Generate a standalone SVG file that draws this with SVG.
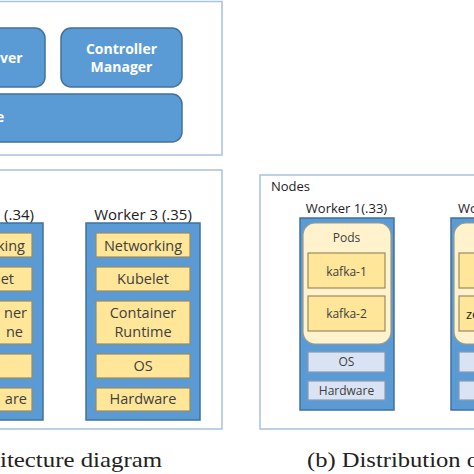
<svg xmlns="http://www.w3.org/2000/svg" width="474" height="474" viewBox="0 0 474 474">
<style>
.panel{fill:#fff;stroke:#a9c1dd;stroke-width:1.5}
.blue{fill:#5b9bd5;stroke:#41719c;stroke-width:1.5}
.yel{fill:#ffe699;stroke:#9a8a60;stroke-width:1.2}
.pods{fill:#fff2cc;stroke:#9a9a8a;stroke-width:1.2}
.gry{fill:#dae3f3;stroke:#8a9ab0;stroke-width:1.2}
.wt{font-family:"Open Sans","Noto Sans",sans-serif;font-weight:bold;font-size:14px;fill:#fff}
.lt{font-family:"Open Sans","Noto Sans",sans-serif;font-size:14.5px;fill:#404040;text-anchor:middle}
.lte{font-family:"Open Sans","Noto Sans",sans-serif;font-size:14.5px;fill:#404040;text-anchor:end}
.hd{font-family:"Open Sans","Noto Sans",sans-serif;font-size:15px;fill:#222}
.rt{font-family:"Open Sans","Noto Sans",sans-serif;font-size:12px;fill:#404040;text-anchor:middle}
.rh{font-family:"Open Sans","Noto Sans",sans-serif;font-size:13px;fill:#222}
.cap{font-family:"Liberation Serif","DejaVu Serif",serif;font-size:22px;fill:#222}
</style>

<!-- top panel: master -->
<g id="master">
<rect class="panel" x="-200" y="1.5" width="422" height="153.5"/>
<g id="api-server">
<rect class="blue" x="-76" y="28" width="121" height="59" rx="10"/>
<text class="wt" x="0" y="63">ver</text>
</g>
<g id="controller-manager">
<rect class="blue" x="61" y="28" width="121" height="59" rx="10"/>
<text class="wt" x="121.5" y="54" text-anchor="middle">Controller</text>
<text class="wt" x="121.5" y="72" text-anchor="middle">Manager</text>
</g>
<g id="wide-box">
<rect class="blue" x="-200" y="94" width="382" height="48" rx="10"/>
<text class="wt" x="-4" y="122">e</text>
</g>
</g>

<!-- middle-left panel: workers -->
<g id="workers-panel">
<rect class="panel" x="-200" y="170" width="422" height="259"/>
</g>

<g id="worker2">
<text class="hd" x="34" y="220" text-anchor="end">(.34)</text>
<rect class="blue" x="-71" y="223" width="114" height="197"/>
<rect class="yel" x="-62" y="233" width="94" height="24"/>
<text class="lte" x="25" y="251">king</text>
<rect class="yel" x="-62" y="267" width="94" height="24"/>
<text class="lte" x="14" y="284">et</text>
<rect class="yel" x="-62" y="301" width="94" height="43"/>
<text class="lte" x="27" y="318">ner</text>
<text class="lte" x="23" y="337">ne</text>
<rect class="yel" x="-62" y="354" width="94" height="24"/>
<rect class="yel" x="-62" y="388" width="94" height="23"/>
<text class="lte" x="27" y="404">are</text>
</g>

<g id="worker3">
<text class="hd" x="143" y="220" text-anchor="middle">Worker 3 (.35)</text>
<rect class="blue" x="86" y="223" width="114" height="197"/>
<rect class="yel" x="96" y="233" width="94" height="24"/>
<text class="lt" x="143" y="251">Networking</text>
<rect class="yel" x="96" y="267" width="94" height="24"/>
<text class="lt" x="143" y="284">Kubelet</text>
<rect class="yel" x="96" y="301" width="94" height="43"/>
<text class="lt" x="143" y="318">Container</text>
<text class="lt" x="143" y="337">Runtime</text>
<rect class="yel" x="96" y="354" width="94" height="24"/>
<text class="lt" x="143" y="371">OS</text>
<rect class="yel" x="96" y="388" width="94" height="23"/>
<text class="lt" x="143" y="404">Hardware</text>
</g>

<text class="cap" x="0" y="467" textLength="162" lengthAdjust="spacingAndGlyphs">itecture diagram</text>

<!-- right panel: nodes -->
<g id="nodes-panel">
<rect class="panel" x="260" y="175" width="440" height="254"/>
<text class="rh" x="271" y="191" font-size="12">Nodes</text>
</g>

<g id="node-worker1">
<text class="rh" x="346.5" y="213" text-anchor="middle">Worker 1(.33)</text>
<rect class="blue" x="300" y="218" width="94" height="192"/>
<rect class="pods" x="303" y="223" width="88" height="121" rx="12"/>
<text class="rt" x="346.5" y="242">Pods</text>
<rect class="yel" x="308" y="253" width="77" height="35"/>
<text class="rt" x="346.5" y="276">kafka-1</text>
<rect class="yel" x="308" y="296" width="77" height="35"/>
<text class="rt" x="346.5" y="318">kafka-2</text>
<rect class="gry" x="308" y="352" width="77" height="20"/>
<text class="rt" x="346.5" y="366">OS</text>
<rect class="gry" x="308" y="381" width="77" height="19"/>
<text class="rt" x="346.5" y="395">Hardware</text>
</g>

<g id="node-worker2">
<text class="rh" x="458" y="213">Wo</text>
<rect class="blue" x="451" y="218" width="94" height="192"/>
<rect class="pods" x="454" y="223" width="88" height="121" rx="12"/>
<rect class="yel" x="459" y="253" width="77" height="35"/>
<rect class="yel" x="459" y="296" width="77" height="35"/>
<text class="rh" x="466" y="319" font-size="12" fill="#404040">zo</text>
<rect class="gry" x="459" y="352" width="77" height="20"/>
<rect class="gry" x="459" y="381" width="77" height="19"/>
</g>

<text class="cap" x="307" y="467" textLength="172" lengthAdjust="spacingAndGlyphs">(b) Distribution o</text>

<g id="connectors"></g>
</svg>
